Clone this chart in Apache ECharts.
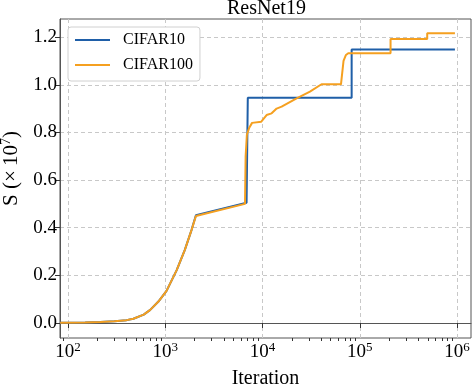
<!DOCTYPE html>
<html>
<head>
<meta charset="utf-8">
<script src="https://cdn.jsdelivr.net/npm/echarts@6/dist/echarts.min.js"></script>
<style>html,body{margin:0;padding:0;background:#fff}#c{width:474px;height:387px}</style>
</head>
<body>
<div id="c"></div>
<script>
// ---- data ----
const cifar10Iter = [83, 150, 215, 300, 400, 470, 600, 700, 850, 1030, 1310, 1585, 1860, 2065, 6850, 7050, 82400, 82400, 950000];
const cifar10S    = [0.001, 0.002, 0.004, 0.007, 0.012, 0.018, 0.035, 0.055, 0.09, 0.135, 0.222, 0.306, 0.39, 0.452, 0.505, 0.945, 0.945, 1.148, 1.148];
const cifar100Iter = [83, 150, 215, 300, 400, 470, 600, 700, 850, 1030, 1310, 1585, 1860, 2065, 6600, 6700, 6900, 7300, 7800, 9700, 11000, 12400, 13950, 15700, 22400, 30700, 40400, 64000, 68000, 72000, 76000, 207000, 207000, 493000, 493000, 950000];
const cifar100S    = [0.001, 0.002, 0.004, 0.007, 0.012, 0.018, 0.035, 0.055, 0.09, 0.135, 0.222, 0.306, 0.39, 0.449, 0.5, 0.70, 0.79, 0.82, 0.84, 0.845, 0.873, 0.88, 0.90, 0.908, 0.943, 0.971, 1.002, 1.002, 1.10, 1.125, 1.132, 1.132, 1.192, 1.192, 1.216, 1.216];
const seriesNames = ['CIFAR10', 'CIFAR100'];
const xMajorTicks = [100, 1000, 10000, 100000, 1000000];
const xMinorTicks = [90, 200, 300, 400, 500, 600, 700, 800, 900, 2000, 3000, 4000, 5000, 6000, 7000, 8000, 9000, 20000, 30000, 40000, 50000, 60000, 70000, 80000, 90000, 200000, 300000, 400000, 500000, 600000, 700000, 800000, 900000];
const yTicks = [0, 0.2, 0.4, 0.6, 0.8, 1.0, 1.2];

const FONT = "'Liberation Serif', 'Times New Roman', serif";
const zip = (a, b) => a.map((v, i) => [v, b[i]]);

const chart = echarts.init(document.getElementById('c'), null, {renderer: 'canvas'});
chart.setOption({
  animation: false,
  backgroundColor: '#fff',
  title: {
    text: 'ResNet19', left: 227, top: -1, padding: 0,
    textStyle: {fontFamily: FONT, fontSize: 20, fontWeight: 'normal', color: '#000'}
  },
  grid: {left: 60, right: 3, top: 19, bottom: 49, containLabel: false, outerBoundsMode: 'none',
    show: true, borderColor: '#555', borderWidth: 1, backgroundColor: 'transparent'},
  legend: {
    orient: 'vertical', left: 68, top: 27,
    padding: [5, 7, 8, 6], itemWidth: 35, itemHeight: 14, itemGap: 9,
    backgroundColor: '#fff', borderColor: '#d0d0d0', borderWidth: 1, borderRadius: 3,
    itemStyle: {opacity: 0},
    textStyle: {fontFamily: FONT, fontSize: 16, color: '#000', padding: [0, 0, 0, 8]},
    data: seriesNames
  },
  xAxis: [{
    type: 'log', logBase: 10, min: 82.7, max: 1.39e6,
    name: 'Iteration', nameLocation: 'middle', nameGap: 31,
    nameTextStyle: {fontFamily: FONT, fontSize: 20, color: '#000'},
    axisLine: {show: true, lineStyle: {color: '#555', width: 1}},
    axisTick: {show: true, length: 5, customValues: xMajorTicks, lineStyle: {color: '#333'}},
    axisLabel: {
      customValues: xMajorTicks, margin: 3, color: '#000',
      formatter: v => '{b|10}{s|' + Math.round(Math.log10(v)) + '}',
      rich: {
        b: {fontFamily: FONT, fontSize: 19, color: '#000', lineHeight: 22},
        s: {fontFamily: FONT, fontSize: 13, color: '#000', verticalAlign: 'top', lineHeight: 12}
      }
    },
    splitLine: {show: true, lineStyle: {type: [4, 3], color: '#c8c8c8', width: 1}}
  }, {
    type: 'log', logBase: 10, min: 82.7, max: 1.39e6, position: 'bottom',
    axisLine: {show: false},
    axisTick: {show: true, length: 3, customValues: xMinorTicks, lineStyle: {color: '#333'}},
    axisLabel: {show: false},
    splitLine: {show: false}
  }],
  yAxis: {
    type: 'value', min: -0.063, max: 1.276,
    name: '{a|S (×\u200910}{s|7}{a|)}', nameLocation: 'middle', nameGap: 33, nameRotate: 90,
    nameTextStyle: {
      padding: [0, 0, 0, 20],
      rich: {
        a: {fontFamily: FONT, fontSize: 21, color: '#000', lineHeight: 25},
        s: {fontFamily: FONT, fontSize: 14, color: '#000', verticalAlign: 'top', lineHeight: 14}
      }
    },
    axisLine: {show: true, lineStyle: {color: '#555', width: 1}},
    axisTick: {show: true, length: 5, customValues: yTicks, lineStyle: {color: '#333'}},
    axisLabel: {customValues: yTicks, margin: 3, fontFamily: FONT, fontSize: 19, color: '#000', formatter: v => v.toFixed(1)},
    splitLine: {show: true, lineStyle: {type: [4, 3], color: '#c8c8c8', width: 1}}
  },
  series: [{
    name: seriesNames[0], type: 'line', xAxisIndex: 0, symbol: 'none',
    lineStyle: {color: '#1f5fa8', width: 2}, itemStyle: {color: '#1f5fa8'},
    data: zip(cifar10Iter, cifar10S)
  }, {
    name: seriesNames[1], type: 'line', xAxisIndex: 0, symbol: 'none',
    lineStyle: {color: '#f5a020', width: 2}, itemStyle: {color: '#f5a020'},
    data: zip(cifar100Iter, cifar100S)
  }]
});
</script>
</body>
</html>
